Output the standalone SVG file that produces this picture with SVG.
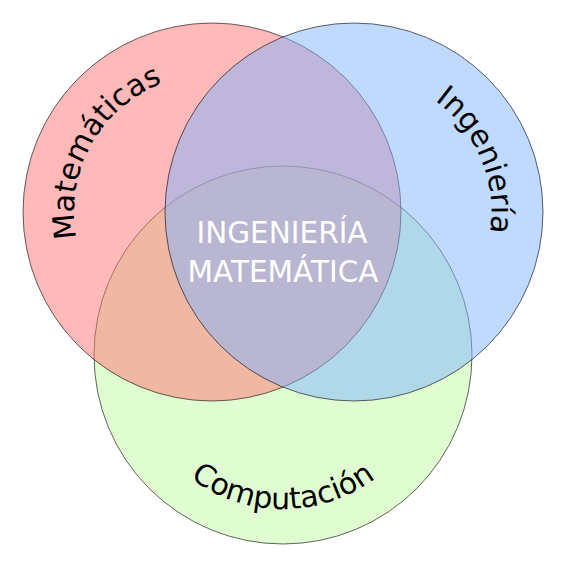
<svg xmlns="http://www.w3.org/2000/svg" width="566" height="568" viewBox="0 0 566 568">
  <style>
    .c { stroke: #000; stroke-opacity: 0.6; stroke-width: 1; fill-opacity: 0.5; }
    .lbl { font-family: "DejaVu Sans", "Liberation Sans", sans-serif; font-size: 30px; fill: #000; }
    .mid { font-family: "DejaVu Sans", "Liberation Sans", sans-serif; font-size: 29.5px; fill: #fff; text-anchor: middle; }
  </style>
  <defs>
    <path id="pMat" d="M 93.7 283.1 A 138 138 0 0 1 209.6 74"/>
    <path id="pIng" d="M 371.5 75.6 A 137.5 137.5 0 0 1 463.4 295.3"/>
    <path id="pCom" d="M 149.6 432 A 154 154 0 0 0 416.4 432"/>
  </defs>
  <rect width="566" height="568" fill="#fff"/>
  <g id="computacion">
    <circle class="c" cx="283" cy="355" r="189" fill="#c1fba3"/>
  </g>
  <g id="matematicas">
    <circle class="c" cx="212" cy="212" r="189" fill="#ff7373"/>
  </g>
  <g id="ingenieria">
    <circle class="c" cx="354" cy="212" r="189" fill="#80b3ff"/>
  </g>
  <g id="labels">
    <text class="lbl"><textPath href="#pMat" startOffset="50%" text-anchor="middle">Matemáticas</textPath></text>
    <text class="lbl"><textPath href="#pIng" startOffset="50%" text-anchor="middle">Ingeniería</textPath></text>
    <text class="lbl"><textPath href="#pCom" startOffset="50%" text-anchor="middle">Computación</textPath></text>
    <text class="mid" x="282" y="243">INGENIERÍA</text>
    <text class="mid" x="283" y="282">MATEMÁTICA</text>
  </g>
</svg>
